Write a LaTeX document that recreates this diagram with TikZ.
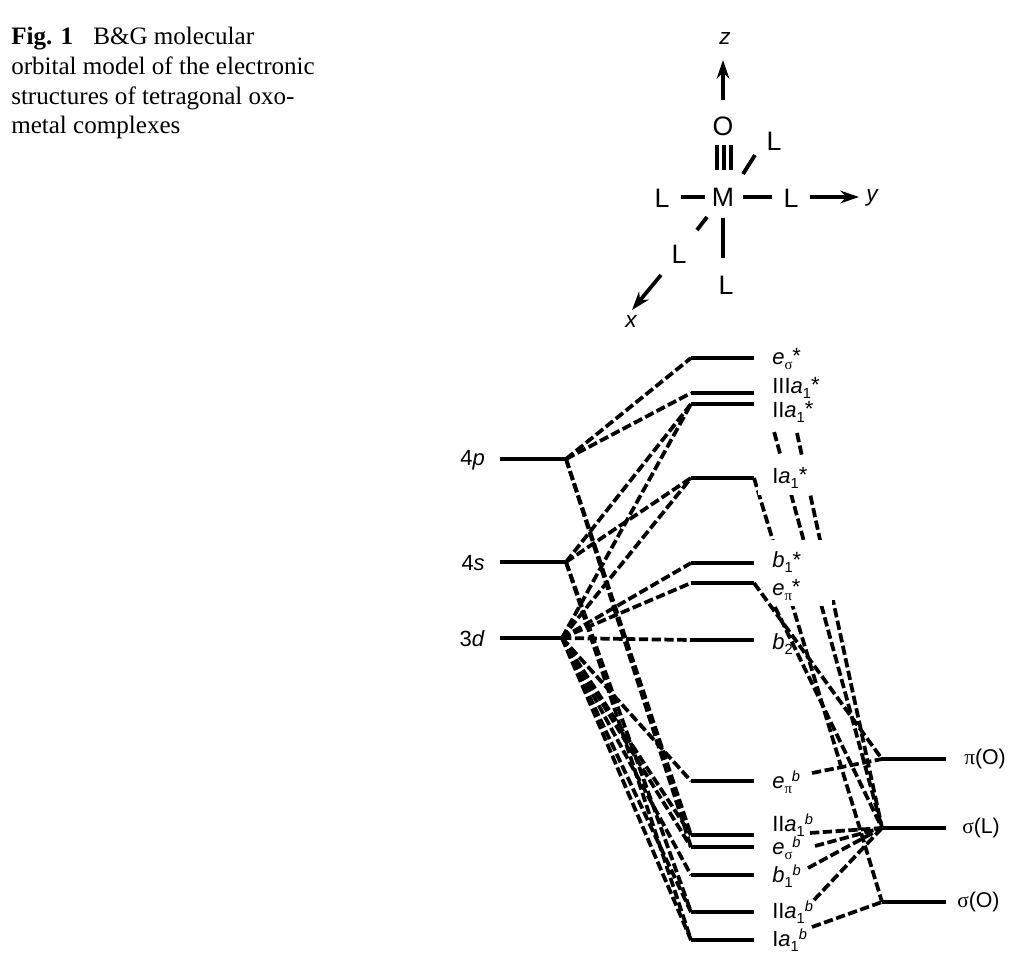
\documentclass[tikz,border=0pt]{standalone}
\usepackage{fontspec}
\setmainfont{Liberation Sans}
\newfontfamily\serifx{Liberation Serif}
\usetikzlibrary{arrows.meta}
\newcommand{\subx}[1]{\raisebox{-.22em}{\fontsize{11pt}{12pt}\selectfont #1}}
\newcommand{\supx}[1]{\raisebox{.34em}{\fontsize{11pt}{12pt}\selectfont #1}}
\newcommand{\starx}{\raisebox{.02em}{*}}
\newcommand{\sigmax}{{\serifx σ}}
\newcommand{\pix}{{\serifx π}}
\tikzset{
  level/.style={line width=2.8pt},
  corr/.style={line width=2.8pt,dash pattern=on 7pt off 2.6pt},
  bond/.style={line width=2.9pt},
  axis/.style={line width=2.8pt,-{Stealth[length=14pt,width=9.5pt]}},
  atom/.style={inner sep=0pt,font=\fontsize{20pt}{22pt}\selectfont},
  axlab/.style={inner sep=0pt,font=\fontsize{17pt}{19pt}\selectfont\itshape},
  molab/.style={inner sep=0pt,anchor=west,font=\fontsize{16.5pt}{19pt}\selectfont},
  fraglab/.style={inner sep=0pt,anchor=west,font=\fontsize{16pt}{19pt}\selectfont},
  caption/.style={inner sep=0pt,anchor=base west,font=\serifx\fontsize{18.8pt}{21pt}\selectfont},
  mask/.style={fill=white,draw=none}
}
\begin{document}
\begin{tikzpicture}[x=0.75pt,y=-0.75pt]
\useasboundingbox (0,0) rectangle (1022,970);
% caption
\node[caption] (c1) at (11,45) {\textbf{Fig. 1}\hspace{0.8em}B\&G molecular};
\node[caption] (c2) at (11,75) {orbital model of the electronic};
\node[caption] (c3) at (11,105) {structures of tetragonal oxo-};
\node[caption] (c4) at (11,134) {metal complexes};
% complex
\node[atom] (O) at (723,126) {O};
\node[atom] (M) at (723,197) {M};
\node[atom] (Lw) at (662,198) {L};
\node[atom] (Le) at (791,198) {L};
\node[atom] (Lb) at (774,141) {L};
\node[atom] (Lf) at (679,254) {L};
\node[atom] (Ls) at (726,285) {L};
\node[axlab] (z) at (725,39) {z};
\node[axlab] (y) at (872,198) {y};
\node[axlab] (x) at (631,322) {x};
\coordinate (zs) at (723,100); \coordinate (ze) at (723,60);
\coordinate (ys) at (810,197); \coordinate (ye) at (859,197);
\coordinate (xs) at (661,275); \coordinate (xe) at (632,310);
\draw[axis] (zs) -- (ze);
\draw[axis] (ys) -- (ye);
\draw[axis] (xs) -- (xe);
\coordinate (t1a) at (717,145); \coordinate (t1b) at (717,170);
\coordinate (t2a) at (724,145); \coordinate (t2b) at (724,170);
\coordinate (t3a) at (731,145); \coordinate (t3b) at (731,170);
\draw[bond] (t1a) -- (t1b); \draw[bond] (t2a) -- (t2b); \draw[bond] (t3a) -- (t3b);
\coordinate (b1a) at (681,197); \coordinate (b1b) at (705,197);
\coordinate (b2a) at (743,197); \coordinate (b2b) at (772,197);
\coordinate (b3a) at (723,218); \coordinate (b3b) at (723,258);
\coordinate (b4a) at (755,155); \coordinate (b4b) at (743,174);
\coordinate (b5a) at (707,217); \coordinate (b5b) at (697,230);
\draw[bond] (b1a) -- (b1b); \draw[bond] (b2a) -- (b2b); \draw[bond] (b3a) -- (b3b);
\draw[bond] (b4a) -- (b4b); \draw[bond] (b5a) -- (b5b);
% atomic levels
\coordinate (p4a) at (500,459); \coordinate (p4) at (566,459);
\coordinate (s4a) at (500,562); \coordinate (s4) at (566,562);
\coordinate (d3a) at (500,638); \coordinate (d3) at (562,638);
% MO levels: left and right ends
\foreach \n/\yy in {es/358,a3s/393,a2s/404,a1s/478,b1s/563,eps/583,b2/640,epb/781,a2bu/835,esb/847,b1b/875,a2bl/912,a1b/940}{
  \coordinate (\n L) at (691,\yy); \coordinate (\n R) at (754,\yy);}
% fragment levels
\coordinate (piL) at (882,759); \coordinate (piR) at (946,759);
\coordinate (sLL) at (882,828); \coordinate (sLR) at (946,828);
\coordinate (sOL) at (882,902); \coordinate (sOR) at (946,902);
% correlation lines partly hidden by the labels
\coordinate (hb) at (797,433);
\coordinate (hc) at (775,607);
\draw[corr] (esR) -- (sLL);
\draw[corr] (hb) -- (sLL);
\draw[corr] (a1sR) -- (sOL);
\draw[corr] (hc) -- (sLL);
\fill[mask] (750,340) rectangle (835,430);
\fill[mask] (758,456) rectangle (835,495);
\fill[mask] (756,540) rectangle (832,606);
\fill[mask] (832,540) rectangle (845,600);
% correlation lines, left side
\draw[corr] (p4) -- (esL);
\draw[corr] (p4) -- (a3sL);
\draw[corr] (s4) -- (a2sL);
\draw[corr] (d3) -- (a2sL);
\draw[corr] (s4) -- (a1sL);
\draw[corr] (d3) -- (a1sL);
\draw[corr] (d3) -- (b1sL);
\draw[corr] (d3) -- (epsL);
\draw[corr] (d3) -- (b2L);
\draw[corr] (d3) -- (epbL);
\draw[corr] (p4) -- (a2buL);
\draw[corr] (p4) -- (esbL);
\draw[corr] (d3) -- (a2buL);
\draw[corr] (d3) -- (esbL);
\draw[corr] (d3) -- (b1bL);
\draw[corr] (d3) -- (a2blL);
\draw[corr] (d3) -- (a1bL);
\draw[corr] (s4) -- (a2blL);
\draw[corr] (s4) -- (a1bL);
% correlation lines, right side
\coordinate (f1) at (812,773);
\coordinate (f2) at (810,833);
\coordinate (f3) at (815,846);
\coordinate (f4) at (808,868);
\coordinate (f5) at (814,900);
\coordinate (f6) at (812,927);
\draw[corr] (epsR) -- (piL);
\draw[corr] (f1) -- (piL);
\draw[corr] (f2) -- (sLL);
\draw[corr] (f3) -- (sLL);
\draw[corr] (f4) -- (sLL);
\draw[corr] (f5) -- (sLL);
\draw[corr] (f6) -- (sOL);
% levels
\foreach \a/\b in {p4a/p4,s4a/s4,d3a/d3,esL/esR,a3sL/a3sR,a2sL/a2sR,a1sL/a1sR,b1sL/b1sR,epsL/epsR,b2L/b2R,epbL/epbR,a2buL/a2buR,esbL/esbR,b1bL/b1bR,a2blL/a2blR,a1bL/a1bR,piL/piR,sLL/sLR,sOL/sOR}{
  \draw[level] (\a) -- (\b);}
% labels
\node[molab,anchor=east] (l4p) at (485,460) {4\textit{p}};
\node[molab,anchor=east] (l4s) at (485,563) {4\textit{s}};
\node[molab,anchor=east] (l3d) at (485,639) {3\textit{d}};
\node[molab] (les) at (772,359) {\textit{e}\subx{\sigmax}\starx};
\node[molab] (la3s) at (772,388) {III\textit{a}\subx{1}\starx};
\node[molab] (la2s) at (772,412) {II\textit{a}\subx{1}\starx};
\node[molab] (la1s) at (772,478) {I\textit{a}\subx{1}\starx};
\node[molab] (lb1s) at (772,562) {\textit{b}\subx{1}\starx};
\node[molab] (leps) at (772,590) {\textit{e}\subx{\pix}\starx};
\node[molab] (lb2) at (772,644) {\textit{b}\subx{2}};
\node[molab] (lepb) at (772,782) {\textit{e}\subx{\pix}\supx{\textit{b}}};
\node[molab] (la2bu) at (772,825) {II\textit{a}\subx{1}\supx{\textit{b}}};
\node[molab] (lesb) at (772,848) {\textit{e}\subx{\sigmax}\supx{\textit{b}}};
\node[molab] (lb1b) at (772,876) {\textit{b}\subx{1}\supx{\textit{b}}};
\node[molab] (la2bl) at (772,912) {II\textit{a}\subx{1}\supx{\textit{b}}};
\node[molab] (la1b) at (772,940) {I\textit{a}\subx{1}\supx{\textit{b}}};
\node[fraglab] (lpi) at (964,759) {\pix(O)};
\node[fraglab] (lsL) at (962,828) {\sigmax(L)};
\node[fraglab] (lsO) at (957,902) {\sigmax(O)};
\end{tikzpicture}
\end{document}
